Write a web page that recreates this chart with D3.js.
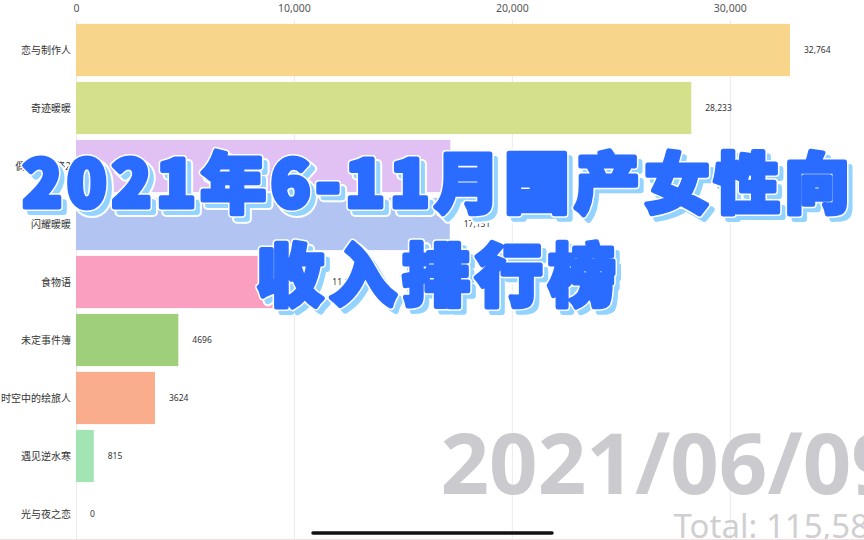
<!DOCTYPE html>
<html>
<head>
<meta charset="utf-8">
<script src="https://cdn.jsdelivr.net/npm/d3@7"></script>
<style>
  html, body { margin: 0; padding: 0; background: #fff; overflow: hidden; }
  svg { display: block; }
</style>
</head>
<body>
<div id="container"></div>
<script>
// data (2021/06/09)
let games = ["恋与制作人", "奇迹暖暖", "偶像梦幻祭2", "闪耀暖暖", "食物语", "未定事件簿", "时空中的绘旅人", "遇见逆水寒", "光与夜之恋"];
let revenue = [32764, 28233, 17178, 17151, 11120, 4696, 3624, 815, 0];
let barColors = ["#f7d68b", "#d5e08b", "#e1c0f3", "#b2c5f2", "#fa9fc0", "#9fcf7a", "#f9ad8c", "#a3e4b5", "#c9d7f0"];
let xTicks = [0, 10000, 20000, 30000];
let dateLabel = "2021/06/09";
let titleLines = ["2021年6-11月国产女性向", "收入排行榜"];

let W = 864, H = 540;
let FONT = "'Noto Sans', 'Noto Sans CJK SC', sans-serif";

let svg = d3.select("#container").append("svg")
    .attr("width", W)
    .attr("height", H);

let x = d3.scaleLinear().domain([0, d3.max(revenue)]).range([76, 790]);
let y = d3.scaleBand().domain(games).range([21, 543]).paddingInner(0.1).paddingOuter(0.05);

let rows = games.map((g, i) => ({ name: g, value: revenue[i], color: barColors[i] }));

// gridlines + top axis
let axis = d3.axisTop(x).tickValues(xTicks).tickSize(-(H - 20)).tickFormat(d3.format(","));
let gAxis = svg.append("g").attr("transform", "translate(0,20)").call(axis);
gAxis.select(".domain").remove();
gAxis.selectAll(".tick line").attr("stroke", "#ebebeb").attr("stroke-width", 1);
gAxis.selectAll(".tick text")
    .attr("y", -8)
    .attr("fill", "#555")
    .style("font-family", FONT)
    .style("font-size", "10.5px");

// big date + total (run off the right edge like the video frame)
let total = d3.sum(revenue);
svg.append("text")
    .attr("x", 900).attr("y", 494)
    .attr("text-anchor", "end")
    .attr("fill", "#cbcace")
    .style("font-family", FONT)
    .style("font-weight", 700)
    .style("font-size", "85px")
    .text(dateLabel);
svg.append("text")
    .attr("x", 888).attr("y", 538)
    .attr("text-anchor", "end")
    .attr("fill", "#cfcfd2")
    .style("font-family", FONT)
    .style("font-size", "33px")
    .text("Total: " + d3.format(",")(total));

// bars
svg.append("g").selectAll("rect")
    .data(rows.filter(d => d.value > 0))
    .join("rect")
    .attr("x", x(0))
    .attr("y", d => y(d.name))
    .attr("width", d => x(d.value) - x(0))
    .attr("height", y.bandwidth())
    .attr("fill", d => d.color);

// category labels
svg.append("g").selectAll("text")
    .data(rows)
    .join("text")
    .attr("x", 71)
    .attr("y", d => y(d.name) + y.bandwidth() / 2)
    .attr("dy", "0.35em")
    .attr("text-anchor", "end")
    .attr("fill", "#333")
    .style("font-family", FONT)
    .style("font-size", "10px")
    .text(d => d.name);

// value labels
let fmtVal = v => v >= 10000 ? d3.format(",")(v) : String(v);
svg.append("g").selectAll("text")
    .data(rows)
    .join("text")
    .attr("x", d => x(d.value) + 14)
    .attr("y", d => y(d.name) + y.bandwidth() / 2)
    .attr("dy", "0.35em")
    .attr("fill", "#333")
    .style("font-family", FONT)
    .style("font-size", "8.5px")
    .text(d => fmtVal(d.value));

// player progress bar + bottom edge
svg.append("line")
    .attr("x1", 313).attr("x2", 552).attr("y1", 533).attr("y2", 533)
    .attr("stroke", "#111").attr("stroke-width", 3.5).attr("stroke-linecap", "round");
svg.append("line")
    .attr("x1", 0).attr("x2", W).attr("y1", 539.5).attr("y2", 539.5)
    .attr("stroke", "#f5dde2").attr("stroke-width", 1);

// overlay title
let title = svg.append("g")
    .style("font-family", "'Noto Sans CJK SC', sans-serif")
    .style("font-weight", 900)
    .attr("text-anchor", "middle");
let titleY = [207, 300];
let titleSize = [65, 67];
let titleSpacing = [5, 6];
function titleLayer(dx, dy, fill, stroke, sw) {
    title.append("g").selectAll("text")
        .data(titleLines)
        .join("text")
        .attr("x", (d, i) => 436 + dx + titleSpacing[i] / 2)
        .attr("y", (d, i) => titleY[i] + dy)
        .attr("font-size", (d, i) => titleSize[i])
        .attr("letter-spacing", (d, i) => titleSpacing[i])
        .attr("fill", fill)
        .attr("stroke", stroke)
        .attr("stroke-width", sw)
        .attr("stroke-linejoin", "round")
        .text(d => d);
}
titleLayer(5, 5, "#ffffff", "#ffffff", 10);
titleLayer(5, 5, "#93d3ff", "#93d3ff", 6);
titleLayer(0, 0, "#ffffff", "#ffffff", 8);
titleLayer(0, 0, "#2a6cff", "#2a6cff", 5);
</script>
</body>
</html>
